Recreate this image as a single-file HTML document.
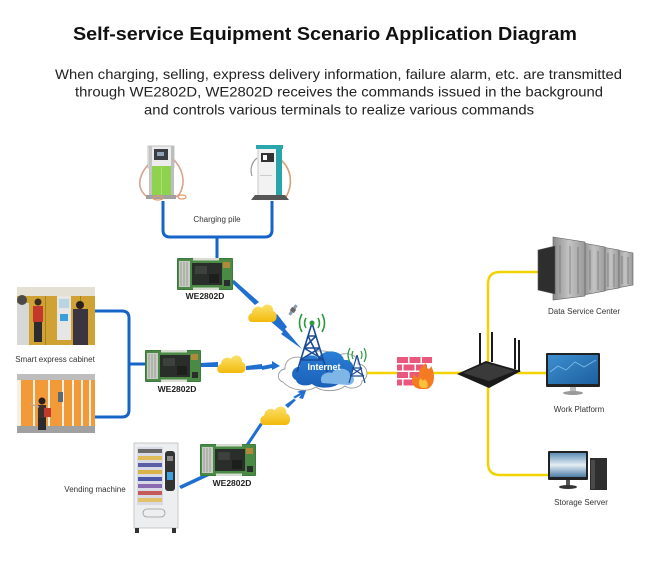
<!DOCTYPE html>
<html><head><meta charset="utf-8"><style>
html,body{margin:0;padding:0;background:#fff;}
svg{display:block;}
text{font-family:"Liberation Sans",Arial,sans-serif;}
</style></head><body>
<svg width="650" height="570" viewBox="0 0 650 570" xmlns="http://www.w3.org/2000/svg">
<rect width="650" height="570" fill="#fff"/>
<defs>
<linearGradient id="yc" x1="0" y1="0" x2="0" y2="1"><stop offset="0" stop-color="#fbe16a"/><stop offset="1" stop-color="#f2b90c"/></linearGradient>
<linearGradient id="bc" x1="0" y1="0" x2="0" y2="1"><stop offset="0" stop-color="#2a7fd6"/><stop offset="1" stop-color="#1a5fb8"/></linearGradient>
<linearGradient id="srv" x1="0" y1="0" x2="1" y2="0"><stop offset="0" stop-color="#8c8c8c"/><stop offset="0.5" stop-color="#c4c4c4"/><stop offset="1" stop-color="#9a9a9a"/></linearGradient>
<linearGradient id="scr2" x1="0" y1="0" x2="0" y2="1"><stop offset="0" stop-color="#5d8fb5"/><stop offset="0.5" stop-color="#e4eef5"/><stop offset="1" stop-color="#4d7ea6"/></linearGradient>
<linearGradient id="scr1" x1="0" y1="0" x2="1" y2="1"><stop offset="0" stop-color="#3d8fd0"/><stop offset="1" stop-color="#1d5f9e"/></linearGradient>
<g id="pcb">
  <rect x="0" y="0" width="56" height="32" rx="1" fill="#3b7a3c"/>
  <rect x="1" y="1" width="54" height="30" fill="#4a8a45"/>
  <rect x="2" y="3" width="11" height="26" fill="#c8ccc4"/>
  <line x1="4" y1="4" x2="4" y2="28" stroke="#8c928a" stroke-width="0.8"/>
  <line x1="7" y1="4" x2="7" y2="28" stroke="#8c928a" stroke-width="0.8"/>
  <line x1="10" y1="4" x2="10" y2="28" stroke="#8c928a" stroke-width="0.8"/>
  <rect x="15" y="5" width="30" height="22" fill="#2a2e2a"/>
  <rect x="18" y="8" width="12" height="8" fill="#3c413c"/>
  <rect x="32" y="16" width="10" height="9" fill="#1c1f1c"/>
  <rect x="46" y="4" width="7" height="6" fill="#b08a3a"/>
  <rect x="47" y="22" width="6" height="6" fill="#2a2e2a"/>
  <rect x="16" y="0" width="26" height="2.5" fill="#d8dcd2"/>
  <rect x="16" y="29.5" width="26" height="2.5" fill="#d8dcd2"/>
</g>
<path id="cloud" d="M5,20 C0,20 0,12 5,11 C5,5 12,3 15,6 C18,0 27,2 26,9 C31,10 31,20 25,20 Z"/>
</defs>

<!-- Title -->
<text x="73" y="40" font-size="18.5" font-weight="bold" fill="#111" textLength="504" lengthAdjust="spacingAndGlyphs">Self-service Equipment Scenario Application Diagram</text>
<text x="55" y="79" font-size="14" fill="#222" textLength="567" lengthAdjust="spacingAndGlyphs">When charging, selling, express delivery information, failure alarm, etc. are transmitted</text>
<text x="75" y="96.7" font-size="14" fill="#222" textLength="528" lengthAdjust="spacingAndGlyphs">through WE2802D, WE2802D receives the commands issued in the background</text>
<text x="144" y="114.3" font-size="14" fill="#222" textLength="390" lengthAdjust="spacingAndGlyphs">and controls various terminals to realize various commands</text>

<!-- Blue connectors -->
<g fill="none" stroke="#1565c8" stroke-width="3">
  <path d="M163,201 V230 Q163,237 170,237 H265 Q272,237 272,230 V201"/>
  <path d="M217,237 V258"/>
  <path d="M95,311 H122 Q129,311 129,318 V410 Q129,417 122,417 H95"/>
  <path d="M129,364 H146"/>
</g>
<g fill="#1f6fd1" stroke="none">
  <polygon points="231,282 234,280 259,302 255,305"/>
  <polygon points="200,363 218,362 218,367 200,367"/>
  <polygon points="179,486 207,473 209,476 181,489"/>
  <polygon points="246,444 249,445 263,424 260,423"/>
  <!-- lightning bolts -->
  <polygon points="269,320 277,314 287,327 285,329 302,349 281,334 283,332"/>
  <polygon points="246,366 262,364 262,366 272,364 272,361 280,366 272,370 272,368 262,370 262,369 246,370"/>
  <polygon points="285,405 288,408 296,400 294,399 301,395 299,398 303,399 307,388 297,392 300,393 293,397 295,398"/>
</g>

<!-- Yellow connectors -->
<g fill="none" stroke="#f2d200" stroke-width="2.5">
  <path d="M366,373 H462"/>
  <path d="M515,373 H546"/>
  <path d="M540,272 H500 Q488,272 488,284 V463 Q488,475 500,475 H549"/>
</g>

<!-- Charging pile green -->
<path d="M151,162 C140,172 136,185 144,194 C148,199 155,198 157,196" fill="none" stroke="#d8a38f" stroke-width="1.6"/>
<path d="M172,158 C183,168 186,182 180,193 C178,197 172,199 168,197" fill="none" stroke="#d8a38f" stroke-width="1.6"/>
<rect x="148" y="146" width="26" height="22" fill="#ececec" stroke="#b5b5b5" stroke-width="0.8"/>
<rect x="154" y="149" width="14" height="11" fill="#3a3d44"/>
<rect x="157" y="152" width="7" height="4" fill="#8fa3b8"/>
<rect x="151" y="166" width="21" height="30" fill="#8fd24e"/>
<rect x="161" y="167" width="1" height="28" fill="#a9e27a"/>
<rect x="149" y="146" width="3" height="50" fill="#c4c4c4"/>
<rect x="171" y="146" width="3" height="50" fill="#bdbdbd"/>
<rect x="146" y="195" width="30" height="4" fill="#a0a0a0"/>
<ellipse cx="158" cy="198" rx="5" ry="2" fill="none" stroke="#e29b6b" stroke-width="1.2"/>
<ellipse cx="182" cy="197" rx="4" ry="2" fill="none" stroke="#e29b6b" stroke-width="1.2"/>

<!-- Charging pile teal -->
<path d="M281,160 C292,170 293,185 286,197" fill="none" stroke="#d7a070" stroke-width="1.6"/>
<path d="M257,158 C251,163 250,170 252,176" fill="none" stroke="#9a9a9a" stroke-width="1.2"/>
<rect x="258" y="148" width="20" height="48" fill="#f2f2f2" stroke="#bdbdbd" stroke-width="0.8"/>
<rect x="276" y="146" width="6" height="50" fill="#28a4aa"/>
<rect x="256" y="145" width="27" height="4" fill="#2aa7ac"/>
<rect x="261" y="153" width="13" height="9" fill="#333"/>
<rect x="263" y="155" width="4" height="5" fill="#fff"/>
<rect x="260" y="175" width="12" height="1" fill="#ccc"/>
<polygon points="255,195 285,195 289,200 251,200" fill="#565656"/>
<text x="217" y="222" font-size="8" fill="#333" text-anchor="middle">Charging pile</text>

<!-- PCB modules -->
<use href="#pcb" x="177" y="258"/>
<use href="#pcb" x="145" y="350"/>
<use href="#pcb" x="200" y="444"/>
<text x="205" y="299" font-size="8.5" font-weight="bold" fill="#222" text-anchor="middle">WE2802D</text>
<text x="177" y="392" font-size="8.5" font-weight="bold" fill="#222" text-anchor="middle">WE2802D</text>
<text x="232" y="486" font-size="8.5" font-weight="bold" fill="#222" text-anchor="middle">WE2802D</text>

<!-- yellow clouds -->
<use href="#cloud" fill="url(#yc)" transform="translate(247,302)"/>
<use href="#cloud" fill="url(#yc)" transform="translate(216,353)"/>
<use href="#cloud" fill="url(#yc)" transform="translate(259,404) scale(1.05,1.05)"/>

<!-- satellite -->
<g transform="translate(293,310) rotate(-55)">
  <rect x="-6" y="-1.5" width="12" height="3" fill="#8a9bb0"/>
  <rect x="-2" y="-2.5" width="4" height="5" fill="#666"/>
</g>

<!-- Internet -->
<path d="M283,382 C276,380 277,370 285,369 C284,359 296,354 304,359 C310,349 330,348 336,357 C344,350 360,355 358,364 C368,364 370,378 362,381 C362,388 350,390 345,386 C338,392 322,392 316,387 C306,393 290,390 283,382 Z" fill="#fff" stroke="#9a9a9a" stroke-width="0.9"/>
<path d="M296,380 C289,377 292,366 300,367 C299,357 312,352 318,358 C324,348 342,350 344,360 C353,359 356,369 351,373 C355,381 348,386 340,383 C333,389 318,389 312,384 C305,387 297,385 296,380 Z" fill="url(#bc)"/>
<path d="M322,383 C318,376 326,371 332,373 C336,366 350,368 350,375 C356,376 355,385 348,385 Z" fill="#7fb6e8"/>
<g stroke="#1a4a95" stroke-width="1.6" fill="none">
  <path d="M312,323 L297,372 M312,323 L327,372"/>
  <path d="M308,336 H316 M304,348 H320 M300,360 H324 M308,336 L320,360 M316,336 L304,348 M304,348 L324,360 M320,348 L300,360"/>
</g>
<circle cx="312" cy="323" r="2.5" fill="#2a9a3a"/>
<g stroke="#2a9a3a" stroke-width="1.6" fill="none">
  <path d="M306,318 Q303,323 306,328 M318,318 Q321,323 318,328"/>
  <path d="M302,314 Q297,323 302,332 M322,314 Q327,323 322,332"/>
</g>
<g stroke="#1a4a95" stroke-width="1.2" fill="none">
  <path d="M357,355 L349,383 M357,355 L365,383 M352,368 H362 M350,376 H364 M352,368 L364,376 M362,368 L350,376"/>
</g>
<g stroke="#2a9a3a" stroke-width="1.2" fill="none">
  <path d="M353,351 Q351,355 353,359 M361,351 Q363,355 361,359"/>
  <path d="M350,348 Q346,355 350,362 M364,348 Q368,355 364,362"/>
</g>
<text x="324" y="370" font-size="9" font-weight="bold" fill="#fff" text-anchor="middle">Internet</text>

<!-- Firewall -->
<g>
  <rect x="397" y="357" width="34" height="31" fill="#fff"/>
  <g fill="#e9577c">
    <rect x="397" y="357" width="11" height="6"/><rect x="409.5" y="357" width="11" height="6"/><rect x="422" y="357" width="10" height="6"/>
    <rect x="397" y="364.5" width="5" height="6"/><rect x="403.5" y="364.5" width="11" height="6"/><rect x="416" y="364.5" width="11" height="6"/>
    <rect x="397" y="372" width="11" height="6"/><rect x="409.5" y="372" width="11" height="6"/>
    <rect x="397" y="379.5" width="5" height="6"/><rect x="403.5" y="379.5" width="11" height="6"/>
  </g>
  <path d="M420,389 C412,388 410,380 414,374 C416,378 418,378 419,376 C418,370 422,366 426,363 C425,369 430,371 431,366 C435,372 436,386 427,389 Z" fill="#f47b22"/>
  <path d="M422,388 C418,386 418,381 421,378 C422,381 424,381 425,379 C428,382 429,387 426,388 Z" fill="#fbbf3b"/>
</g>

<!-- Router -->
<g>
  <line x1="480" y1="333" x2="480" y2="365" stroke="#1b1b1b" stroke-width="2"/>
  <line x1="492" y1="332" x2="492" y2="362" stroke="#1b1b1b" stroke-width="2"/>
  <line x1="515" y1="338" x2="515" y2="369" stroke="#1b1b1b" stroke-width="2"/>
  <line x1="519" y1="340" x2="519" y2="372" stroke="#1b1b1b" stroke-width="2"/>
  <polygon points="457,374 486,361 521,371 489,388" fill="#1a1a1a"/>
  <polygon points="463,373 486,363 515,371 489,381" fill="#3a3a3a"/>
</g>

<!-- Servers -->
<g stroke="#5a5a5a" stroke-width="0.6">
  <polygon points="617,250 633,253 633,285 617,288" fill="url(#srv)"/>
  <polygon points="602,247 619,250 619,288 602,291" fill="url(#srv)"/>
  <polygon points="583,243 605,247 605,291 583,295" fill="url(#srv)"/>
  <polygon points="553,237 585,242 585,296 553,300" fill="url(#srv)"/>
  <polygon points="538,250 555,246 555,294 538,290" fill="#2e2e2e"/>
</g>
<g stroke="#6e6e6e" stroke-width="0.7">
  <line x1="560" y1="245" x2="560" y2="293"/><line x1="570" y1="246" x2="570" y2="294"/><line x1="578" y1="247" x2="578" y2="294"/>
  <line x1="590" y1="250" x2="590" y2="290"/><line x1="598" y1="251" x2="598" y2="290"/>
  <line x1="608" y1="253" x2="608" y2="287"/><line x1="614" y1="254" x2="614" y2="287"/>
  <line x1="622" y1="256" x2="622" y2="284"/><line x1="628" y1="257" x2="628" y2="284"/>
</g>
<text x="584" y="314" font-size="8" fill="#333" text-anchor="middle">Data Service Center</text>

<!-- Work platform -->
<rect x="546" y="353" width="54" height="34" rx="1" fill="#222"/>
<rect x="548" y="355" width="50" height="29" fill="url(#scr1)"/>
<path d="M550,372 L558,366 L566,370 L575,362 L584,367 L596,360" fill="none" stroke="#7fc0ee" stroke-width="0.8"/>
<rect x="570" y="387" width="6" height="5" fill="#bbb"/>
<ellipse cx="573" cy="393" rx="10" ry="2" fill="#999"/>
<text x="579" y="412" font-size="8" fill="#333" text-anchor="middle">Work Platform</text>

<!-- Storage server -->
<rect x="590" y="458" width="17" height="32" fill="#2e2e2e"/>
<rect x="591" y="460" width="4" height="29" fill="#4a4a4a"/>
<rect x="548" y="451" width="40" height="29" rx="1" fill="#222"/>
<rect x="550" y="453" width="36" height="24" fill="url(#scr2)"/>
<rect x="566" y="480" width="4" height="5" fill="#555"/>
<ellipse cx="568" cy="487" rx="9" ry="2" fill="#333"/>
<text x="581" y="505" font-size="8" fill="#333" text-anchor="middle">Storage Server</text>

<!-- Photo 1: smart express cabinet -->
<g>
  <rect x="17" y="287" width="78" height="58" fill="#cfa233"/>
  <rect x="17" y="287" width="78" height="9" fill="#e4e0d4"/>
  <rect x="45" y="296" width="1" height="49" fill="#a88222"/>
  <rect x="80" y="296" width="1" height="49" fill="#a88222"/>
  <rect x="57" y="296" width="14" height="44" fill="#e6e6e6"/>
  <rect x="59" y="299" width="10" height="9" fill="#b9d4e2"/>
  <rect x="60" y="314" width="8" height="7" fill="#3a9fd8"/>
  <rect x="17" y="303" width="12" height="42" fill="#d7d7d7"/>
  <circle cx="22" cy="300" r="5" fill="#4a4a4a"/>
  <circle cx="38" cy="302" r="3.5" fill="#3a2a20"/>
  <rect x="33" y="306" width="10" height="16" fill="#c4372b"/>
  <rect x="34" y="322" width="8" height="20" fill="#2c2c30"/>
  <circle cx="80" cy="305" r="4" fill="#2a2020"/>
  <rect x="73" y="309" width="15" height="36" fill="#3a3540"/>
</g>
<text x="55" y="362" font-size="8" fill="#333" text-anchor="middle">Smart express cabinet</text>

<!-- Photo 2 -->
<g>
  <rect x="17" y="374" width="78" height="59" fill="#f29a38"/>
  <rect x="17" y="374" width="78" height="6" fill="#bdbdbd"/>
  <g fill="#f7f0e4">
    <rect x="17" y="380" width="4" height="46"/><rect x="33" y="380" width="2" height="46"/><rect x="48" y="380" width="2" height="46"/>
    <rect x="62" y="380" width="2" height="46"/><rect x="72" y="380" width="2" height="46"/><rect x="81" y="380" width="2" height="46"/><rect x="89" y="380" width="2" height="46"/>
  </g>
  <rect x="58" y="392" width="5" height="10" fill="#5a6a70"/>
  <rect x="17" y="426" width="78" height="7" fill="#a0a0a0"/>
  <circle cx="42" cy="401" r="3.5" fill="#2a2020"/>
  <rect x="38" y="405" width="8" height="13" fill="#3a3030"/>
  <rect x="44" y="408" width="7" height="9" fill="#c0392b"/>
  <rect x="38" y="418" width="8" height="12" fill="#2a2a2e"/>
  <line x1="30" y1="404" x2="39" y2="407" stroke="#c8a88a" stroke-width="1.5"/>
</g>

<!-- Vending machine -->
<g>
  <rect x="134" y="443" width="44" height="85" fill="#eceef0" stroke="#bdbdbd" stroke-width="0.8"/>
  <rect x="137" y="447" width="26" height="58" fill="#d8dbe6"/>
  <rect x="138" y="449" width="24" height="4" fill="#6a6a6a"/>
  <rect x="138" y="456" width="24" height="4" fill="#e0bd5a"/>
  <rect x="138" y="463" width="24" height="4" fill="#5b5fa6"/>
  <rect x="138" y="470" width="24" height="4" fill="#d9b24b"/>
  <rect x="138" y="477" width="24" height="4" fill="#4b57a8"/>
  <rect x="138" y="484" width="24" height="4" fill="#8a6ab0"/>
  <rect x="138" y="491" width="24" height="4" fill="#c45a5a"/>
  <rect x="138" y="498" width="24" height="4" fill="#e1c16a"/>
  <rect x="165" y="451" width="10" height="40" rx="3" fill="#333"/>
  <rect x="167" y="456" width="6" height="5" fill="#888"/>
  <rect x="167" y="472" width="6" height="8" fill="#3fa0e0"/>
  <rect x="143" y="509" width="22" height="8" rx="4" fill="none" stroke="#9a9a9a" stroke-width="0.8"/>
  <rect x="135" y="528" width="4" height="5" fill="#333"/>
  <rect x="172" y="528" width="4" height="5" fill="#333"/>
</g>
<text x="95" y="492" font-size="8" fill="#333" text-anchor="middle">Vending machine</text>
</svg>
</body></html>
